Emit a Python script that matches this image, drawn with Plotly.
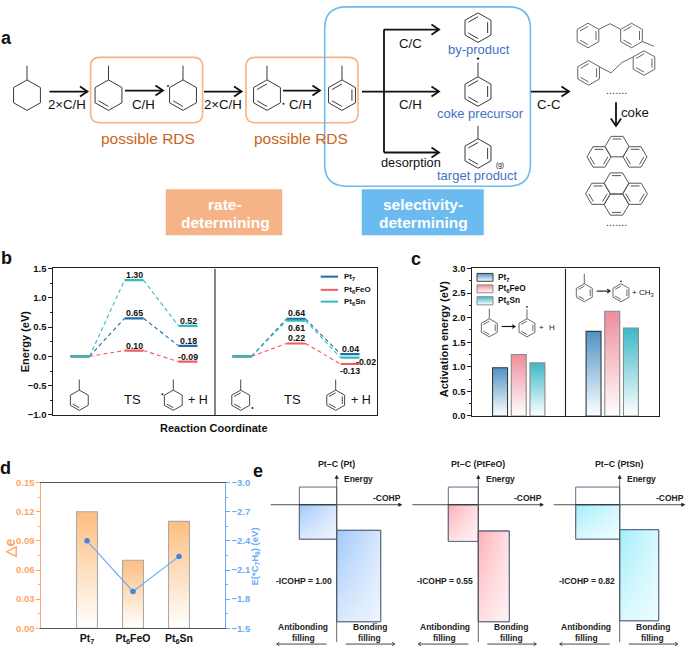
import math
import plotly.graph_objects as go

W, H = 685, 652
FONT = "Liberation Sans"

# ---------- data ----------
series_names = ["Pt<sub>7</sub>", "Pt<sub>6</sub>FeO", "Pt<sub>6</sub>Sn"]
line_colors = ["#1F6CAB", "#F45B5B", "#2DBDBD"]

b_positions = [0, 1, 2, 3, 4, 5]
b_pt7 = [0.0, 0.65, 0.18, 0.0, 0.64, 0.04]
b_feo = [0.0, 0.10, -0.09, 0.0, 0.22, -0.13]
b_sn = [0.0, 1.30, 0.52, 0.0, 0.61, -0.02]

c_positions = [0, 1, 2, 5, 6, 7]
c_values = [0.98, 1.25, 1.08, 1.72, 2.13, 1.79]
c_colors = ["#4F93C4", "#EE8D9B", "#3DB8C6"]
c_borders = ["#3a3a3a", "#8a8a8a", "#8a8a8a"]

d_categories = ["Pt<sub>7</sub>", "Pt<sub>6</sub>FeO", "Pt<sub>6</sub>Sn"]
d_delta_e = [0.12, 0.07, 0.11]
d_energy = [-2.40, -1.88, -2.24]

e_titles = ["Pt\u2013C (Pt)", "Pt\u2013C (PtFeO)", "Pt\u2013C (PtSn)"]
e_icohp = ["1.00", "0.55", "0.82"]
e_anti_x = [-1.12, -0.90, -1.32]
e_anti_top = [0.54, 0.54, 0.54]
e_anti_bottom = [-1.05, -1.12, -1.05]
e_bond_x = [1.32, 0.93, 1.17]
e_bond_top = [-0.78, -0.80, -0.76]
e_bond_bottom = [-3.57, -3.57, -3.54]
e_fills = [("#9FC8FB", "#D6E7FD"), ("#FFAEB6", "#FFDFE3"), ("#A2EEFC", "#D6F8FE")]

fig = go.Figure()
shapes, annots = [], []


def px(x):
    return x / W


def py(y):
    return 1 - y / H


def pth(points, close=False):
    s = "M " + " L ".join(f"{px(a):.5f},{py(b):.5f}" for a, b in points)
    return s + (" Z" if close else "")


def path(d, color="#222", width=1.0, fill=None, dash=None):
    sh = dict(type="path", xref="paper", yref="paper", path=d,
              line=dict(color=color, width=width, dash=dash or "solid"))
    if fill:
        sh["fillcolor"] = fill
    shapes.append(sh)


def rrect(x0, y0, x1, y1, r, color, width=1.6, fill=None):
    a, b = px, py
    d = (f"M {a(x0+r)},{b(y0)} L {a(x1-r)},{b(y0)} Q {a(x1)},{b(y0)} {a(x1)},{b(y0+r)} "
         f"L {a(x1)},{b(y1-r)} Q {a(x1)},{b(y1)} {a(x1-r)},{b(y1)} L {a(x0+r)},{b(y1)} "
         f"Q {a(x0)},{b(y1)} {a(x0)},{b(y1-r)} L {a(x0)},{b(y0+r)} Q {a(x0)},{b(y0)} {a(x0+r)},{b(y0)} Z")
    path(d, color, width, fill)


def text(x, y, s, size=10, color="#111", bold=False, anchor="center", angle=0):
    annots.append(dict(xref="paper", yref="paper", x=px(x), y=py(y), text=f"<b>{s}</b>" if bold else s,
                       showarrow=False, xanchor=anchor, yanchor="middle", textangle=angle,
                       font=dict(family=FONT, size=size, color=color)))


def hexa(cx, cy, R, doubles=(), pointy=True, color="#222", width=0.9):
    off = -90 if pointy else 0
    v = [(cx + R * math.cos(math.radians(off + 60 * i)), cy + R * math.sin(math.radians(off + 60 * i)))
         for i in range(6)]
    path(pth(v, True), color, width)
    for e in doubles:
        p, q = v[e], v[(e + 1) % 6]
        k = 0.74
        pi = (cx + (p[0] - cx) * k, cy + (p[1] - cy) * k)
        qi = (cx + (q[0] - cx) * k, cy + (q[1] - cy) * k)
        path(pth([pi, qi]), color, width)
    return v


def dot(x, y, r=1.0, color="#222"):
    shapes.append(dict(type="circle", xref="paper", yref="paper", x0=px(x - r), x1=px(x + r),
                       y0=py(y + r), y1=py(y - r), fillcolor=color, line=dict(width=0)))


def mol(cx, cy, R, doubles=(), top=None, color="#222", width=0.9):
    hexa(cx, cy, R, doubles, True, color, width)
    if top is not None:
        path(pth([(cx, cy - R), (cx, top)]), color, width)


def arrow(x0, y0, x1, y1, color="#111", width=1.8, head=7):
    path(pth([(x0, y0), (x1, y1)]), color, width)
    ang = math.atan2(y1 - y0, x1 - x0)
    pts = []
    for s in (0.6, -0.6):
        pts.append((x1 - head * 1.3 * math.cos(ang + s), y1 - head * 1.3 * math.sin(ang + s)))
    path(pth([pts[0], (x1, y1), pts[1]]), color, width)


# double-bond edge indices on a pointy-top hexagon (clockwise from top vertex):
# 0 top-right, 1 right, 2 bottom-right, 3 bottom-left, 4 left, 5 top-left
BENZ = (1, 3, 5)


def axes(n, x0, x1, ytop, ybot):
    return dict(x=[px(x0), px(x1)], y=[py(ybot), py(ytop)], n=n)


def grad_rect(x0, x1, y0, y1, xa, ya, ctop, cbot, kind="vertical", line="#444", lw=1.0):
    fig.add_trace(go.Scatter(
        x=[x0, x1, x1, x0, x0], y=[y0, y0, y1, y1, y0], xaxis=xa, yaxis=ya, mode="lines",
        fill="toself", line=dict(color=line, width=lw), hoverinfo="skip", showlegend=False,
        fillgradient=dict(type=kind, colorscale=[[0, cbot], [1, ctop]])))


# ---------- panel b ----------
DARK = "#222"
tickfont = dict(family=FONT, size=9.5, color="#111", weight="bold")
layout_axes = {}
dom = axes(1, 53, 377, 267, 416)
layout_axes["xaxis"] = dict(domain=dom["x"], range=[-0.5, 5.5], showgrid=False, zeroline=False, ticks="",
                            showticklabels=False, showline=True, linecolor=DARK, linewidth=1.1, mirror=True)
layout_axes["yaxis"] = dict(domain=dom["y"], range=[-1, 1.5], dtick=0.5, tickformat=".1f", showgrid=False,
                            zeroline=False, ticks="outside", ticklen=3.5, tickwidth=1, tickcolor=DARK,
                            showline=True, linecolor=DARK, linewidth=1.1, mirror=True,
                            minor=dict(dtick=0.25, ticks="outside", ticklen=2, tickcolor=DARK),
                            tickfont=tickfont)
HW = 0.176
for vals, col in zip([b_pt7, b_feo, b_sn], line_colors):
    sx, sy, dx, dy = [], [], [], []
    for i, (p, v) in enumerate(zip(b_positions, vals)):
        sx += [p - HW, p + HW, None]
        sy += [v, v, None]
        if i not in (2, 5):
            dx += [p + HW, b_positions[i + 1] - HW, None]
            dy += [v, vals[i + 1], None]
    fig.add_trace(go.Scatter(x=dx, y=dy, mode="lines", line=dict(color=col, width=1.1, dash="4px,3px"),
                             hoverinfo="skip", showlegend=False))
    fig.add_trace(go.Scatter(x=sx, y=sy, mode="lines", line=dict(color=col, width=2.2),
                             hoverinfo="skip", showlegend=False))

shapes.append(dict(type="line", xref="x", yref="y", x0=2.5, x1=2.5, y0=-1, y1=1.5,
                   line=dict(color=DARK, width=1.1)))
# value labels: series, index, vertical shift, horizontal shift
b_labels = [(b_sn, 1, 5, 0), (b_pt7, 1, 5, 0), (b_feo, 1, 5, 0), (b_sn, 2, 5, 0), (b_pt7, 2, 5, 0),
            (b_feo, 2, 5, 0), (b_pt7, 4, 6, 0), (b_sn, 4, -7, 0), (b_feo, 4, 5, 0), (b_pt7, 5, 5, 0),
            (b_sn, 5, -4, 16), (b_feo, 5, -7, 0)]
for arr, i, ys, xs in b_labels:
    annots.append(dict(xref="x", yref="y", x=b_positions[i], y=arr[i], text=f"<b>{arr[i]:.2f}</b>",
                       yshift=ys, xshift=xs, showarrow=False,
                       font=dict(family=FONT, size=8.8, color="#111")))
text(25, 341, "Energy (eV)", 11, "#111", True, angle=-90)
text(214, 429, "Reaction Coordinate", 11, "#111", True)
for y, c, name in zip([275.3, 288.7, 300.7], line_colors, series_names):
    path(pth([(320.7, y), (338, y)]), c, 2)
    text(341.5, y, f"<b>{name}</b>", 8, "#111", False, "left")
mol(79.3, 401, 10.3, (3,), 380, "#333")
text(132.3, 400, "TS", 13)
mol(173.3, 401, 10.3, (3,), 380, "#333")
dot(162.5, 395)
text(197.7, 400.7, "+ H", 12.5)
mol(240.7, 401, 10.3, (3, 5), 380, "#333")
dot(252.5, 409)
text(292.7, 400, "TS", 13)
mol(335.7, 401, 10.3, BENZ, 380, "#333")
text(361, 400.7, "+ H", 12.5)

# ---------- panel c ----------
dom = axes(2, 472, 659, 267, 417)
layout_axes["xaxis2"] = dict(domain=dom["x"], range=[-1.5, 8.5], anchor="y2", showgrid=False, zeroline=False,
                             ticks="", showticklabels=False, showline=True, linecolor=DARK, linewidth=1.1,
                             mirror=True)
layout_axes["yaxis2"] = dict(domain=dom["y"], range=[0, 3], anchor="x2", dtick=0.5, tickformat=".1f",
                             showgrid=False, zeroline=False, ticks="outside", ticklen=3.5, tickcolor=DARK,
                             showline=True, linecolor=DARK, linewidth=1.1, mirror=True, tickfont=tickfont,
                             minor=dict(dtick=0.25, ticks="outside", ticklen=2, tickcolor=DARK))
BAR = 0.4
for i, (p, v) in enumerate(zip(c_positions, c_values)):
    grad_rect(p - BAR, p + BAR, 0, v, "x2", "y2", c_colors[i % 3], "#FFFFFF", line=c_borders[i % 3], lw=1.1)
shapes.append(dict(type="line", xref="x2", yref="y2", x0=3.5, x1=3.5, y0=0, y1=3,
                   line=dict(color=DARK, width=1.1)))
text(444, 339, "Activation energy (eV)", 11, "#111", True, angle=-90)
text(416, 257, "c", 18, "#111", True)
layout_axes["xaxis9"] = dict(domain=[0, 1], range=[0, W], visible=False, anchor="y9", fixedrange=True)
layout_axes["yaxis9"] = dict(domain=[0, 1], range=[H, 0], visible=False, anchor="x9", fixedrange=True)
for (y0, y1), c, b, name in zip([(272, 280), (283.7, 291.7), (295.7, 304)], c_colors, c_borders, series_names):
    grad_rect(477, 493, y1, y0, "x9", "y9", c, "#FFFFFF", line=b, lw=1.0)
    text(496, (y0 + y1) / 2, f"<b>{name}</b>", 8.3, "#111", False, "left")
mol(489.3, 327.3, 9.2, BENZ, 308, "#444", 0.8)
arrow(501.7, 326, 515, 326, "#111", 1.1, 2.6)
mol(527, 327.3, 9.2, BENZ, 308.5, "#444", 0.8)
dot(527, 306, 0.9)
text(541.5, 327, "+", 8)
text(552, 327, "H", 8)
mol(584.3, 291.7, 9.2, BENZ, 272.3, "#444", 0.8)
arrow(596.7, 290, 610, 290, "#111", 1.1, 2.6)
mol(621, 291.7, 9.2, BENZ, None, "#444", 0.8)
dot(621, 280, 0.9)
text(643, 292, "+ CH<sub>3</sub>", 8)

# ---------- panel d ----------
ORANGE, BLUE = "#FFA366", "#6AAAF5"
dom = axes(3, 41, 225, 484.7, 633)
layout_axes["xaxis3"] = dict(domain=dom["x"], range=[-1, 3], anchor="y3", tickvals=[0, 1, 2],
                             ticktext=[f"<b>{c}</b>" for c in d_categories],
                             showgrid=False, zeroline=False, ticks="", showline=True, linecolor="#555",
                             linewidth=1.3, mirror=True, tickfont=dict(family=FONT, size=10.5, color="#111"))
layout_axes["yaxis3"] = dict(domain=dom["y"], range=[0, 0.15], anchor="x3", dtick=0.03, tickformat=".2f",
                             showgrid=False, zeroline=False, ticks="outside", ticklen=3.5, tickcolor=ORANGE,
                             showline=True, linecolor=ORANGE, linewidth=1.2,
                             minor=dict(dtick=0.015, ticks="outside", ticklen=2, tickcolor=ORANGE),
                             tickfont=dict(family=FONT, size=9.5, color=ORANGE, weight="bold"))
layout_axes["yaxis4"] = dict(domain=dom["y"], range=[-1.5, -3], anchor="x3", overlaying="y3", side="right",
                             dtick=0.3, tickformat=".1f", showgrid=False, zeroline=False, ticks="outside",
                             ticklen=3.5, tickcolor=BLUE, showline=True, linecolor=BLUE, linewidth=1.2,
                             minor=dict(dtick=0.15, ticks="outside", ticklen=2, tickcolor=BLUE),
                             tickfont=dict(family=FONT, size=9.5, color=BLUE, weight="bold"))
for i, v in enumerate(d_delta_e):
    grad_rect(i - 0.228, i + 0.228, 0, v, "x3", "y3", "#FDBE80", "#FFFFFF", line="#AAAAAA", lw=1.1)
fig.add_trace(go.Scatter(x=[0, 1, 2], y=d_energy, xaxis="x3", yaxis="y4", mode="lines+markers",
                         line=dict(color=BLUE, width=1.1), marker=dict(color="#3F86E0", size=5.5),
                         hoverinfo="skip", showlegend=False))
text(10, 551.7, "\u25b3e", 14, ORANGE, True, angle=-90)
text(255, 560, "E(*C<sub>7</sub>H<sub>8</sub>) (eV)", 9.5, BLUE, True, angle=-90)
text(5, 470, "d", 18, "#111", True)

# ---------- panel e ----------
axis_px = [336.7, 478.3, 619.7]
xaxes_e = [("xaxis5", "x5"), ("xaxis6", "x6"), ("xaxis7", "x7")]
yaxes_e = [("yaxis5", "y5"), ("yaxis6", "y6"), ("yaxis7", "y7")]
HALF = 60
for k in range(3):
    cx = axis_px[k]
    (xn, xr), (yn, yr) = xaxes_e[k], yaxes_e[k]
    layout_axes[xn] = dict(domain=[px(cx - HALF), px(cx + HALF)], range=[-HALF * 3 / 100, HALF * 3 / 100],
                           visible=False, anchor=yr)
    # 1 unit = 33.33 px; energy zero sits at y=507.3
    layout_axes[yn] = dict(domain=[py(652), py(470)], range=[-(652 - 507.3) * 3 / 100, (507.3 - 470) * 3 / 100],
                           visible=False, anchor=xr)
    ax_, at, ab = e_anti_x[k], e_anti_top[k], e_anti_bottom[k]
    bx, bt, bb = e_bond_x[k], e_bond_top[k], e_bond_bottom[k]
    c1, c2 = e_fills[k]
    fig.add_trace(go.Scatter(x=[ax_, 0, 0, ax_, ax_], y=[0, 0, at, at, 0], xaxis=xr, yaxis=yr, mode="lines",
                             line=dict(color="#5C6A86", width=1), hoverinfo="skip", showlegend=False))
    for (a0, a1, b0, b1) in [(ax_, 0, ab, 0), (0, bx, bb, bt)]:
        grad_rect(a0, a1, b0, b1, xr, yr, c2, c1, "horizontal", "#5C6A86", 1)
        # pale wash towards the bottom turns the horizontal ramp into a diagonal one
        grad_rect(a0, a1, b0, b1, xr, yr, "rgba(255,255,255,0)", "rgba(255,255,255,0.6)", "vertical",
                  "#5C6A86", 1)
    path(pth([(cx - 66, 507.3), (cx + 63, 507.3)]), "#222", 0.8)
    path(pth([(cx + 65, 507.3), (cx + 62, 505.8), (cx + 62, 508.8)], True), "#222", 0.8, "#222")
    path(pth([(cx, 480), (cx, 647)]), "#555", 0.9)
    path(pth([(cx, 477.5), (cx - 1.5, 480.5), (cx + 1.5, 480.5)], True), "#222", 0.8, "#222")
    text(cx - 0.5, 465.7, e_titles[k], 8.8, "#222", True)
    text(cx + 5.5, 480.7, "Energy", 8.5, "#222", True, "left")
    text(cx + 50, 500, "-COHP", 8.5, "#222", True)
    text(cx - 33, 585, f"-ICOHP = {e_icohp[k]}", 8.5, "#222", True)
    text(cx - 33.5, 631.7, "Antibonding", 8.5, "#222", True)
    text(cx - 33.5, 642.7, "filling", 8.5, "#222", True)
    text(cx + 33, 631.7, "Bonding", 8.5, "#222", True)
    text(cx + 33, 642.7, "filling", 8.5, "#222", True)
    arrow(cx - 10, 649, cx - 60, 649, "#333", 0.9, 2.4)
    arrow(cx + 9, 649, cx + 58, 649, "#333", 0.9, 2.4)
text(258, 473, "e", 18, "#111", True)

# ---------- panel a ----------
text(6, 33, "a", 18, "#111", True)
text(6, 256, "b", 18, "#111", True)
OR, SK = "#F5B387", "#6BBBF0"
rrect(90.6, 52.3, 202.6, 118.7, 9, OR)
rrect(246, 52.3, 358, 118.7, 9, OR)
rrect(324.7, 0.9, 530.4, 183.3, 22, SK)
path(pth([(166, 186.7), (282, 186.7), (282, 233), (166, 233)], True), OR, 0.5, OR)
path(pth([(362, 186.7), (483.6, 186.7), (483.6, 233), (362, 233)], True), SK, 0.5, SK)
text(225, 202, "rate-", 15.5, "#FFFFFF", True)
text(225, 220, "determining", 15.5, "#FFFFFF", True)
text(423, 202, "selectivity-", 15.5, "#FFFFFF", True)
text(423, 220, "determining", 15.5, "#FFFFFF", True)
text(148, 135, "possible RDS", 15.5, "#C8651B")
text(301, 135, "possible RDS", 15.5, "#C8651B")

R = 15.5
mol(27, 90.7, R, (), 60.7)
mol(108.5, 90.7, R, (3,), 60.7)
mol(183, 90.7, R, (3,), 60.7)
dot(168, 81.3)
mol(267, 90.7, R, (3, 5), 60.7)
dot(283.5, 99.5)
mol(342, 90.7, R, BENZ, 60.7)
mol(478, 22, 15, BENZ)
mol(478, 87, 15, BENZ, 57.5)
dot(478, 53.5, 1.2)
mol(478, 150, 15, BENZ, 122)

for a0, a1, y in [(49.5, 87.5, 87), (125, 163, 86), (204, 241.6, 87), (283, 320, 86), (531, 569, 87)]:
    arrow(a0, y, a1, y)
arrow(362, 87, 439, 87)
path(pth([(384, 24), (384, 149)]), "#111", 1.8)
arrow(384, 24, 439, 24)
arrow(384, 149, 439, 149)
arrow(616, 98, 616, 122)

text(66.5, 100, "2\u00d7C/H", 13.2)
text(143, 100, "C/H", 13.2)
text(223, 100, "2\u00d7C/H", 13.2)
text(300, 100, "C/H", 13.2)
text(410, 38, "C/C", 13.2)
text(410, 100, "C/H", 13.2)
text(411, 159, "desorption", 12.8)
text(549, 100, "C-C", 13.2)
text(635, 108, "coke", 13.2)
BL = "#4472C4"
text(479, 44, "by-product", 13, BL)
text(480, 109, "coke precursor", 13, BL)
text(477, 172, "target product", 13, BL)
text(500, 162, "(g)", 6.5)

G = "#555"
mol(588, 30, 12.5, BENZ, None, G)
mol(631.5, 30, 12.5, BENZ, None, G)
path(pth([(598.8, 23.8), (610, 18), (620.7, 23.8)]), G, 0.9)
path(pth([(642.3, 36.2), (654, 41)]), G, 0.9)
mol(588.6, 68, 12.5, BENZ, None, G)
mol(644, 58, 12.5, BENZ, None, G)
path(pth([(599.4, 61.8), (611, 68), (622, 57.5), (633.2, 51.8)]), G, 0.9)
text(616, 85, ".......", 11, "#333")
text(616, 220, ".......", 11, "#333")

FL = (0, 2, 4)
for c_ in [(617, 143), (599, 153.5), (635, 153.5)]:
    hexa(c_[0], c_[1], 12, (4,) if c_[0] == 617 else FL, False, G, 1.0)
for c_ in [(616.5, 180.5), (598, 191), (635, 191), (616.5, 202)]:
    hexa(c_[0], c_[1], 12.4, (4,) if c_[0] == 616.5 and c_[1] < 190 else (1,) if c_[0] == 616.5 else FL,
         False, G, 1.0)

fig.update_layout(width=W, height=H, margin=dict(l=0, r=0, t=0, b=0), paper_bgcolor="white",
                  plot_bgcolor="rgba(0,0,0,0)", showlegend=False, shapes=shapes, annotations=annots,
                  font=dict(family=FONT), **layout_axes)
fig.write_html("out.html", config={"displayModeBar": False}, post_script="document.body.style.margin='0';")
